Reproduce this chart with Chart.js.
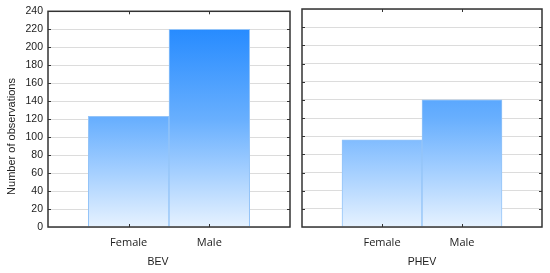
<!DOCTYPE html>
<html><head><meta charset="utf-8">
<script src="https://cdn.jsdelivr.net/npm/chart.js@4/dist/chart.umd.min.js"></script>
<style>
html,body{margin:0;padding:0;background:#fff;}
#c1{position:absolute;left:0;top:0;}
#c2{position:absolute;left:292px;top:0;}
</style></head><body>
<canvas id="c1" width="292" height="273"></canvas>
<canvas id="c2" width="258" height="273"></canvas>
<script>
const categories = ['', 'Female', 'Male', ''];
const bevValues = [null, 123, 220, null];
const phevValues = [null, 96, 140, null];
const panelTitles = ['BEV', 'PHEV'];
const yAxisTitle = 'Number of observations';
const yMin = 0, yMax = 240, yStep = 20;

function grad(ctx) {
  const ca = ctx.chart.chartArea;
  if (!ca) return '#6ab0ff';
  const g = ctx.chart.ctx.createLinearGradient(0, ca.bottom, 0, ca.top);
  g.addColorStop(0, '#e6f2ff');
  g.addColorStop(0.25, '#a6d0ff');
  g.addColorStop(0.5, '#68affe');
  g.addColorStop(1, '#1a84ff');
  return g;
}

const frame = {
  id: 'frame',
  afterDraw(chart, args, opts) {
    const {ctx, chartArea: a, scales} = chart;
    ctx.save();
    ctx.strokeStyle = '#333';
    ctx.lineWidth = 1.5;
    ctx.strokeRect(a.left, a.top, a.right - a.left, a.bottom - a.top);
    ctx.lineWidth = 1;
    ctx.beginPath();
    for (let v = yMin + yStep; v < yMax; v += yStep) {
      const y = Math.round(scales.y.getPixelForValue(v)) + 0.5;
      ctx.moveTo(a.left, y); ctx.lineTo(a.left + 3, y);
      ctx.moveTo(a.right, y); ctx.lineTo(a.right - 3, y);
    }
    [1, 2].forEach(i => {
      const x = Math.round(scales.x.getPixelForValue(i)) + 0.5;
      ctx.moveTo(x, a.bottom); ctx.lineTo(x, a.bottom - 3);
      ctx.moveTo(x, a.top); ctx.lineTo(x, a.top + 3);
    });
    ctx.stroke();
    // panel title
    ctx.fillStyle = '#222';
    ctx.textAlign = 'center';
    ctx.textBaseline = 'middle';
    ctx.font = '10.5px "Liberation Sans"';
    ctx.fillText(opts.title, (a.left + a.right) / 2 + opts.titleShift, 262);
    if (opts.yTitle) {
      ctx.translate(12, chart.height / 2);
      ctx.rotate(-Math.PI / 2);
      ctx.font = '11px "Liberation Sans"';
      ctx.fillText(opts.yTitle, 0, 0);
    }
    ctx.restore();
  }
};

function makeChart(id, values, title, showY) {
  return new Chart(document.getElementById(id), {
    type: 'bar',
    data: { labels: categories, datasets: [{
      data: values,
      backgroundColor: grad,
      borderColor: '#94c4f8',
      borderWidth: 1,
      barPercentage: 1,
      categoryPercentage: 1
    }]},
    plugins: [frame],
    options: {
      responsive: false,
      animation: false,
      devicePixelRatio: 1,
      layout: { padding: { top: 9, right: showY ? 2 : 8, left: 0, bottom: 0 } },
      plugins: {
        legend: { display: false }, tooltip: { enabled: false },
        frame: { title: title, titleShift: showY ? -11 : 0, yTitle: showY ? yAxisTitle : null }
      },
      scales: {
        x: {
          offset: false,
          grid: { display: false },
          border: { display: false },
          ticks: { color: '#222', font: { family: 'Open Sans', size: 11 }, padding: 1, maxRotation: 0, autoSkip: false },
          afterFit(s) { s.height = 46; }
        },
        y: {
          min: yMin, max: yMax,
          grid: { color: '#dcdcdc', drawTicks: false, lineWidth: 1 },
          border: { display: false },
          ticks: { display: showY, stepSize: yStep, color: '#222', font: { family: 'Liberation Sans', size: 10.5 }, padding: 5 },
          afterFit(s) { s.width = showY ? 48 : 10; }
        }
      }
    }
  });
}
makeChart('c1', bevValues, panelTitles[0], true);
makeChart('c2', phevValues, panelTitles[1], false);
</script>
</body></html>
